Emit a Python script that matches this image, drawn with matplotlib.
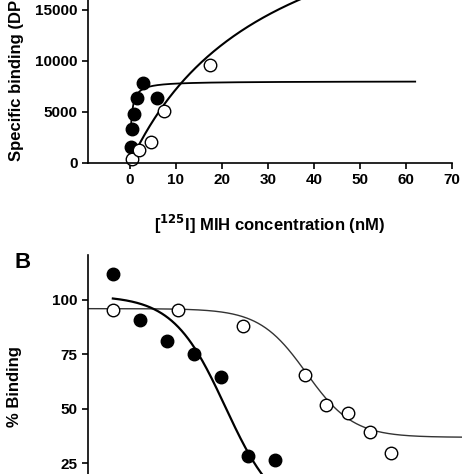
import numpy as np
import matplotlib
matplotlib.use("Agg")
import matplotlib.pyplot as plt

plt.rcParams['font.family'] = ['Liberation Sans', 'DejaVu Sans']
plt.rcParams['font.weight'] = 'bold'

# Panel A data
a_filled_x = [0.3, 0.5, 0.8, 1.5, 2.8, 5.8]
a_filled_y = [1600, 3300, 4800, 6400, 7800, 6400]
a_open_x = [0.5, 2.0, 4.5, 7.5, 17.5]
a_open_y = [400, 1300, 2100, 5100, 9600]
a_filled_fit = (8000, 0.3)     # Bmax, Kd
a_open_fit = (29200, 30.5)

# Panel B data (log concentration)
b_filled_x = [-11, -10.5, -10, -9.5, -9, -8.5, -8]
b_filled_y = [112, 91, 81, 75, 64.5, 28.5, 26.5]
b_open_x = [-11, -9.8, -8.6, -7.45, -7.05, -6.65, -6.25, -5.85]
b_open_y = [95.5, 95.5, 88, 65.5, 52, 48, 39.5, 30]
b_filled_fit = (102, 0, -8.92, 0.9)   # top, bottom, logIC50, hill
b_open_fit = (96, 37, -7.42, 1.0)

fig = plt.figure(figsize=(4.74, 4.74), dpi=100)
H = 474.0

def px_axes(left, top, right, bottom):
    return fig.add_axes([left / H, (H - bottom) / H, (right - left) / H, (bottom - top) / H])

def style(ax):
    for s in ('top', 'right'):
        ax.spines[s].set_visible(False)
    for s in ('left', 'bottom'):
        ax.spines[s].set_linewidth(1.2)
    ax.tick_params(direction='out', width=1.2, length=4, labelsize=11)
    for t in ax.get_xticklabels() + ax.get_yticklabels():
        t.set_fontweight('bold')

# Panel A
axA = px_axes(88, -21, 452, 163)
axA.set_xlim(-9.1, 70)
axA.set_ylim(0, 18000)
axA.set_xticks(range(0, 71, 10))
axA.set_yticks([0, 5000, 10000, 15000])
xf = np.linspace(0.3, 62, 400)
axA.plot(xf, a_filled_fit[0] * xf / (a_filled_fit[1] + xf), color='black', lw=1.3)
xo = np.linspace(0.5, 37, 400)
axA.plot(xo, a_open_fit[0] * xo / (a_open_fit[1] + xo), color='black', lw=1.5)
axA.plot(a_filled_x, a_filled_y, 'o', color='black', ms=9, mec='black', clip_on=False)
axA.plot(a_open_x, a_open_y, 'o', mfc='white', mec='black', ms=9, mew=1, clip_on=False)
axA.set_xlabel('[$^{\\mathbf{125}}$I] MIH concentration (nM)', fontsize=12, fontweight='bold', labelpad=18)
axA.set_ylabel('Specific binding (DPM)', fontsize=12, fontweight='bold', labelpad=8)
style(axA)

# Panel B
axB = px_axes(88, 255, 462, 518)
axB.set_xlim(-11.46, -4.54)
axB.set_ylim(0, 120.6)
axB.set_yticks([25, 50, 75, 100])
axB.set_xticks([])
def sig(x, p):
    top, bot, x0, n = p
    return bot + (top - bot) / (1 + 10 ** (n * (x - x0)))
xb = np.linspace(-11.46, -4.54, 500)
axB.plot(xb, sig(xb, b_open_fit), color='#333333', lw=1.0)
xb2 = np.linspace(-11, -7.5, 400)
axB.plot(xb2, sig(xb2, b_filled_fit), color='black', lw=1.6)
axB.plot(b_filled_x, b_filled_y, 'o', color='black', ms=9)
axB.plot(b_open_x, b_open_y, 'o', mfc='white', mec='black', ms=9, mew=1)
axB.set_ylabel('% Binding', fontsize=12, fontweight='bold', labelpad=22)
style(axB)
axB.spines['bottom'].set_visible(False)
fig.text(14 / H, 1 - 262 / H, 'B', fontsize=16, fontweight='bold', va='center')

fig.savefig('out.png', dpi=100)
